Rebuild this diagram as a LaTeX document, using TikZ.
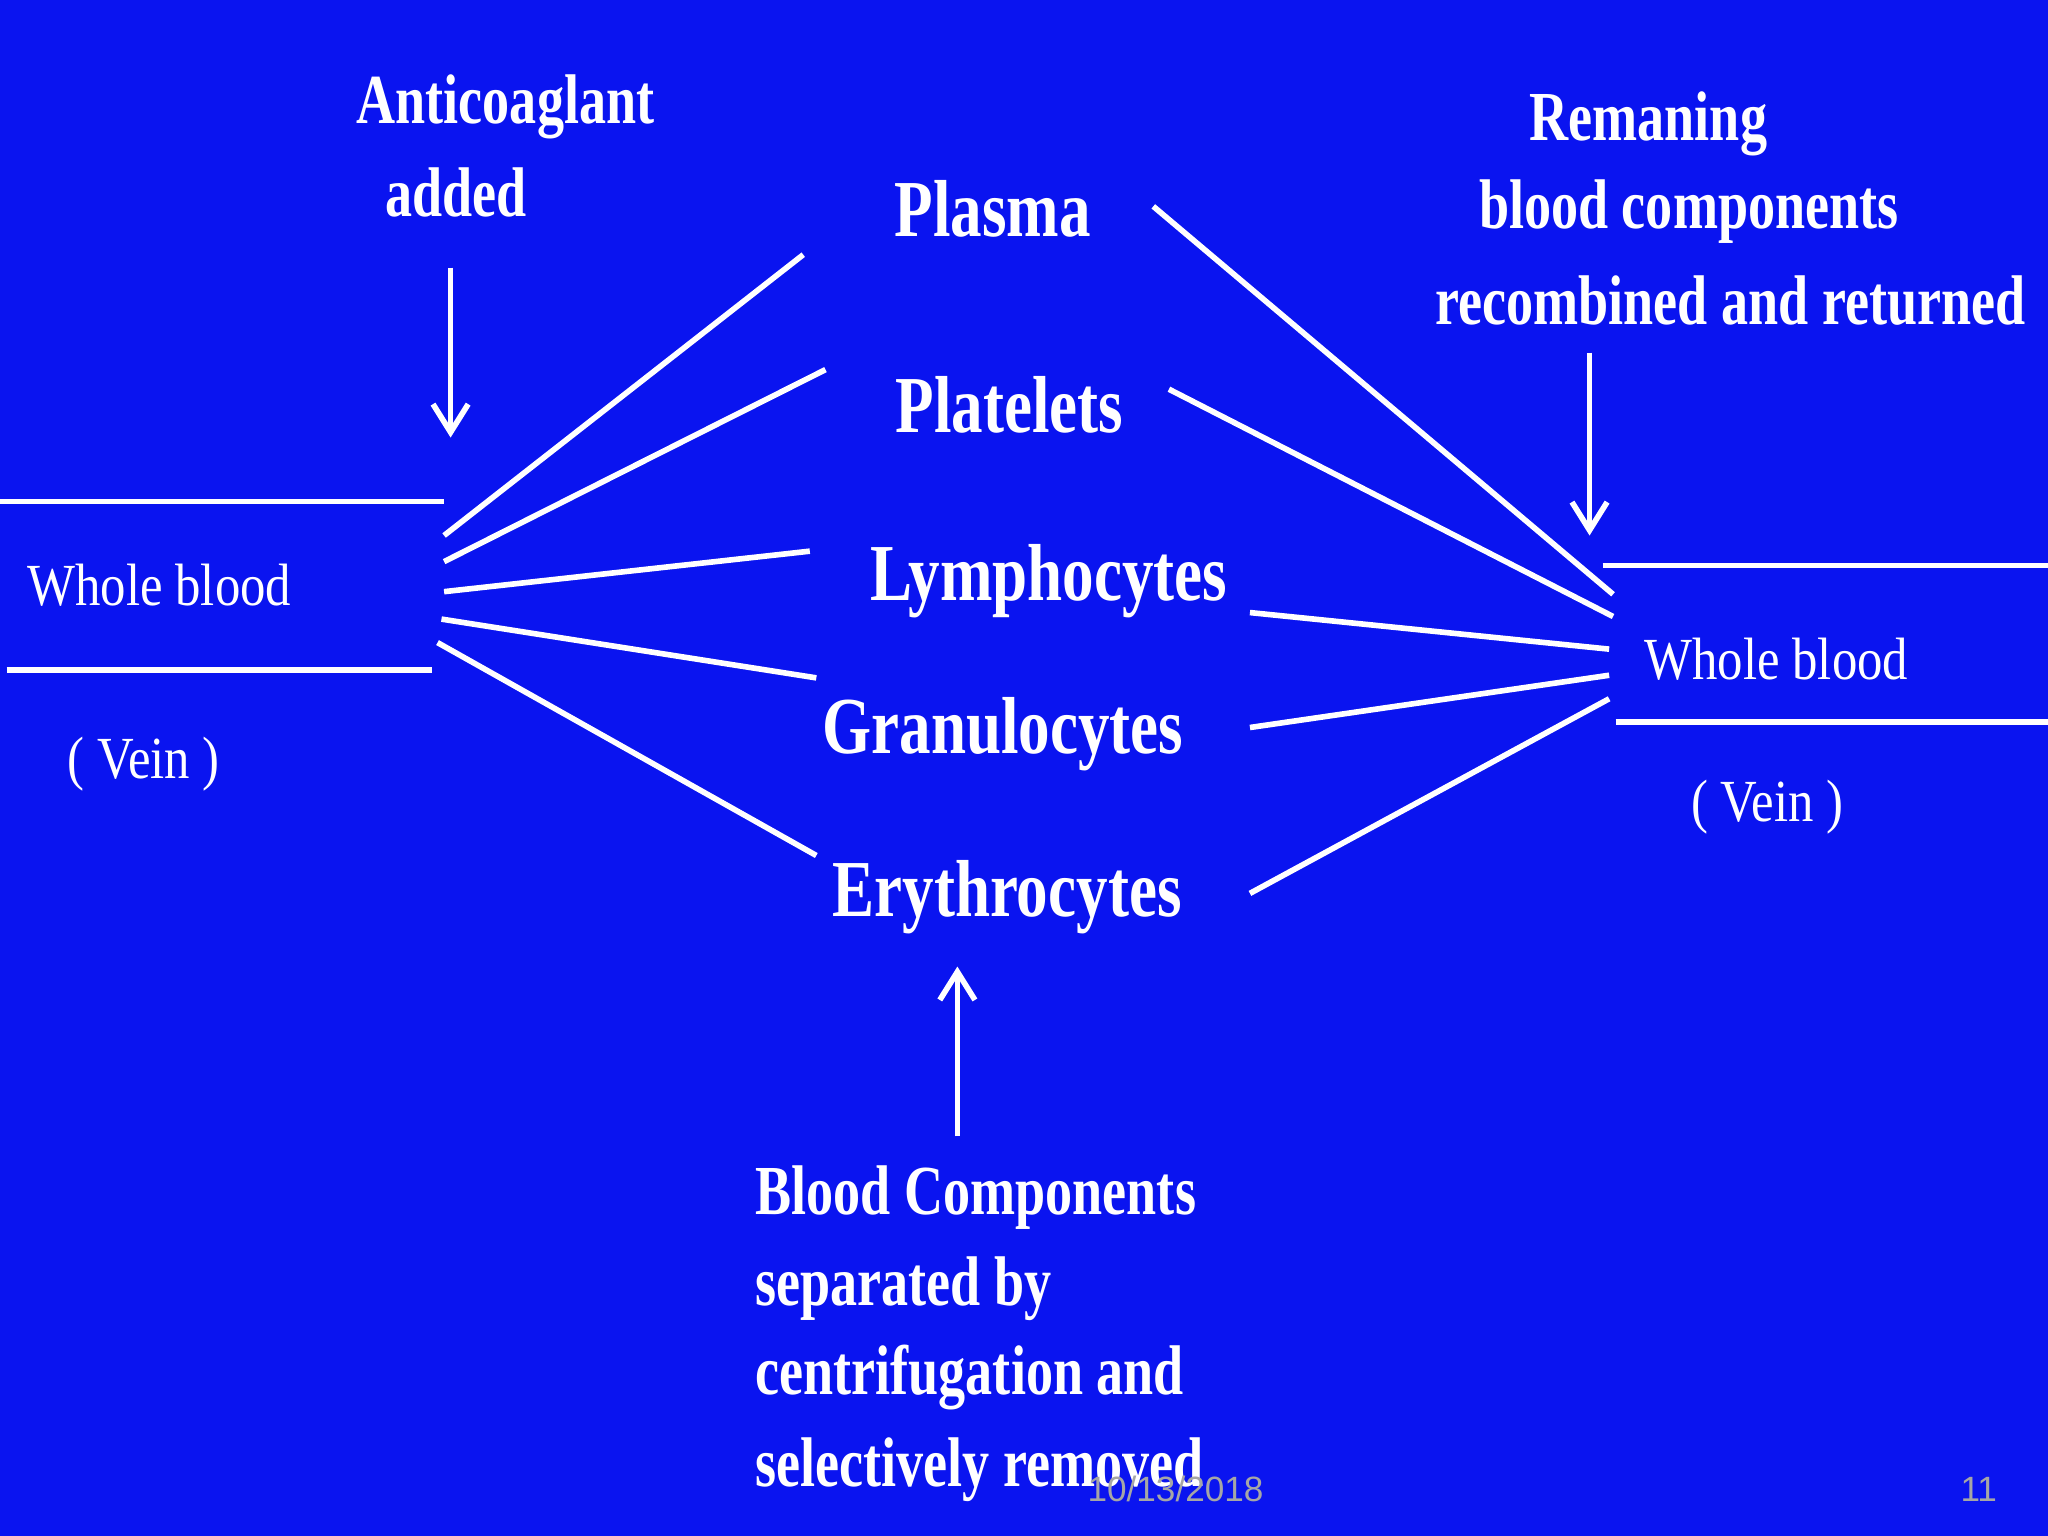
\documentclass[tikz,border=0pt]{standalone}
\usepackage{fontspec}
\setmainfont{Liberation Serif}
\newfontfamily\sansf{Liberation Sans}
\usetikzlibrary{arrows.meta}
\definecolor{bg}{RGB}{10,20,240}
\begin{document}
\begin{tikzpicture}[x=0.013061cm,y=-0.013061cm,
  ln/.style={white,line width=1.6pt},
  ar/.style={white,line width=1.6pt,-{Straight Barb[length=8pt,width=10pt]}},
  big/.style={white,font=\fontsize{23}{26}\selectfont\bfseries,xscale=0.78,inner sep=0},
  mid/.style={white,font=\fontsize{20}{24}\selectfont\bfseries,xscale=0.77,inner sep=0},
  sm/.style={white,font=\fontsize{17}{20}\selectfont,xscale=0.85,inner sep=0}]
\fill[bg] (0,0) rectangle (1568,1176);
\useasboundingbox (0,0) rectangle (1568,1176);
% veins
\coordinate (l1a) at (0,384); \coordinate (l1b) at (340,384);
\coordinate (l2a) at (5,513); \coordinate (l2b) at (331,513);
\draw[ln] (l1a)--(l1b); \draw[ln] (l2a)--(l2b);
\coordinate (r1a) at (1227,433); \coordinate (r1b) at (1568,433);
\coordinate (r2a) at (1237,553); \coordinate (r2b) at (1568,553);
\draw[ln] (r1a)--(r1b); \draw[ln] (r2a)--(r2b);
% labels
\node[big] (pl) at (760,160) {Plasma};
\node[big] (pt) at (773,310) {Platelets};
\node[big] (ly) at (803,445) {Lymphocytes};
\node[big] (gr) at (768,562) {Granulocytes};
\node[big] (er) at (771,687) {Erythrocytes};
\node[sm] (wb1) at (122,448) {Whole blood};
\node[sm] (v1) at (110,585) {( Vein )};
\node[sm] (wb2) at (1360,505) {Whole blood};
\node[sm] (v2) at (1353,618) {( Vein )};
\node[mid] (an1) at (387,82) {Anticoaglant};
\node[mid] (an2) at (349,147) {added};
\node[mid] (re1) at (1262,95) {Remaning};
\node[mid] (re2) at (1293,162) {blood components};
\node[mid] (re3) at (1325,230) {recombined and returned};
\node[mid,anchor=west] (b1) at (578,917) {Blood Components};
\node[mid,anchor=west] (b2) at (578,987) {separated by};
\node[mid,anchor=west] (b3) at (578,1055) {centrifugation and};
\node[mid,anchor=west] (b4) at (578,1125) {selectively removed};
\node[text=gray!70,font=\sansf\fontsize{10}{12}\selectfont] (dt) at (900,1140) {10/13/2018};
\node[text=gray!70,font=\sansf\fontsize{10}{12}\selectfont] (pg) at (1515,1140) {11};
% fan left
\foreach \a/\b/\c/\d in {340/410/615/195, 340/430/632/283, 340/453/620/422, 338/474/625/519, 335/492/625/655}
  \draw[ln] (\a,\b)--(\c,\d);
% fan right
\foreach \a/\b/\c/\d in {883/158/1235/455, 895/298/1235/472, 957/469/1232/497, 957/557/1232/517, 957/684/1232/535}
  \draw[ln] (\a,\b)--(\c,\d);
% arrows
\coordinate (a1s) at (345,205); \coordinate (a1e) at (345,335);
\coordinate (a2s) at (1217,270); \coordinate (a2e) at (1217,410);
\coordinate (a3s) at (733,870); \coordinate (a3e) at (733,740);
\draw[ar] (a1s)--(a1e); \draw[ar] (a2s)--(a2e); \draw[ar] (a3s)--(a3e);
\end{tikzpicture}
\end{document}
